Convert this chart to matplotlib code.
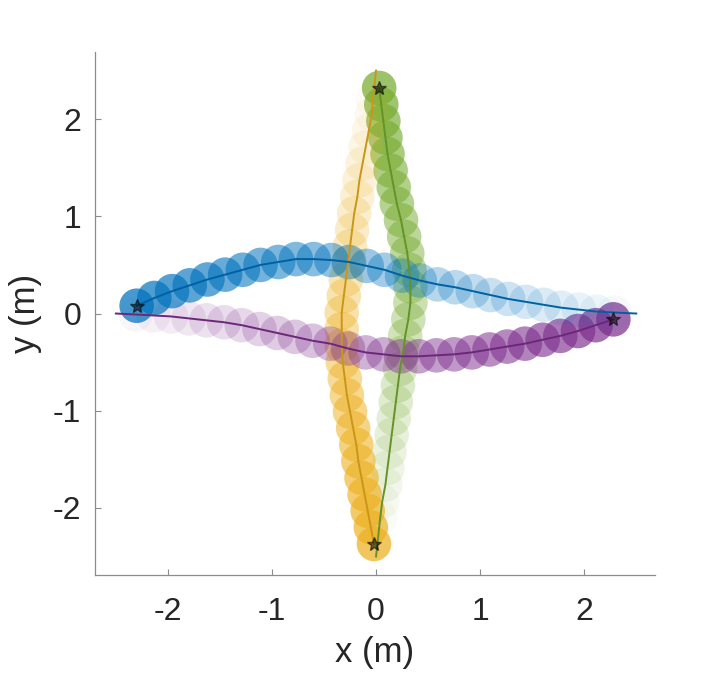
import numpy as np
import matplotlib.pyplot as plt
from matplotlib.colors import to_rgb

plt.rcParams['font.family'] = ['Liberation Sans', 'DejaVu Sans']
plt.rcParams['axes.unicode_minus'] = False

# trajectories (circle centres)
blue_x = [-2.30, -2.13, -1.96, -1.79, -1.62, -1.45, -1.28, -1.11, -0.94, -0.77,
          -0.60, -0.43, -0.26, -0.09, 0.08, 0.25, 0.42, 0.59, 0.76, 0.93,
          1.10, 1.27, 1.44, 1.61, 1.78, 1.95, 2.12, 2.29]
blue_y = [0.08, 0.16, 0.23, 0.29, 0.35, 0.40, 0.45, 0.50, 0.53, 0.56,
          0.56, 0.55, 0.53, 0.49, 0.45, 0.39, 0.34, 0.30, 0.27, 0.23,
          0.19, 0.15, 0.12, 0.09, 0.06, 0.04, 0.02, 0.01]

purple_x = [2.28, 2.11, 1.94, 1.77, 1.60, 1.43, 1.26, 1.09, 0.92, 0.75,
            0.58, 0.41, 0.24, 0.07, -0.10, -0.27, -0.44, -0.61, -0.78, -0.95,
            -1.12, -1.29, -1.46, -1.63, -1.80, -1.97, -2.14, -2.31]
purple_y = [-0.06, -0.12, -0.18, -0.23, -0.27, -0.31, -0.34, -0.37, -0.40, -0.42,
            -0.43, -0.44, -0.44, -0.42, -0.40, -0.36, -0.31, -0.28, -0.24, -0.20,
            -0.16, -0.12, -0.09, -0.07, -0.05, -0.03, -0.02, -0.01]

yellow_x = [-0.02, -0.05, -0.08, -0.11, -0.14, -0.17, -0.19, -0.22, -0.25, -0.28,
            -0.30, -0.32, -0.33, -0.33, -0.33, -0.31, -0.29, -0.27, -0.25, -0.23,
            -0.21, -0.18, -0.16, -0.13, -0.10, -0.07, -0.04, -0.03]
yellow_y = [-2.37, -2.20, -2.03, -1.86, -1.69, -1.52, -1.35, -1.18, -1.01, -0.84,
            -0.67, -0.50, -0.33, -0.16, 0.01, 0.18, 0.35, 0.52, 0.69, 0.86,
            1.03, 1.20, 1.37, 1.54, 1.71, 1.88, 2.05, 2.20]

green_x = [0.03, 0.05, 0.07, 0.09, 0.11, 0.14, 0.17, 0.20, 0.24, 0.27,
           0.30, 0.32, 0.33, 0.33, 0.31, 0.28, 0.26, 0.23, 0.21, 0.19,
           0.17, 0.15, 0.13, 0.11, 0.09, 0.06, 0.04]
green_y = [2.32, 2.15, 1.98, 1.81, 1.64, 1.47, 1.30, 1.13, 0.96, 0.79,
           0.62, 0.45, 0.28, 0.11, -0.06, -0.23, -0.40, -0.57, -0.74, -0.91,
           -1.08, -1.25, -1.42, -1.59, -1.76, -1.93, -2.10]

# goals (end of the thin lines)
goals = {'blue': (2.50, 0.0), 'purple': (-2.50, 0.0),
         'yellow': (0.0, 2.50), 'green': (0.0, -2.50)}

colors = {'blue': '#0072BD', 'purple': '#7E2F8E',
          'yellow': '#EDB120', 'green': '#77AC30'}

agents = [('green', green_x, green_y), ('yellow', yellow_x, yellow_y),
          ('purple', purple_x, purple_y), ('blue', blue_x, blue_y)]

fig = plt.figure(figsize=(7.26, 6.73), dpi=100)
ax = fig.add_axes([0.1309, 0.1456, 0.7713, 0.7771])

for name, xs, ys in agents:
    n = len(xs)
    rgb = np.array(to_rgb(colors[name]))
    alpha = np.linspace(0.72, 0.04, n)
    cols = np.column_stack([np.tile(rgb, (n, 1)), alpha])
    # oldest drawn last so the start end sits on top
    ax.scatter(xs[::-1], ys[::-1], s=620, c=cols[::-1], edgecolors='none', zorder=2)

for name, xs, ys in agents:
    gx, gy = goals[name]
    lc = np.array(to_rgb(colors[name])) * 0.85
    ax.plot(list(xs) + [gx], list(ys) + [gy], color=lc, lw=1.4, zorder=3)
    ax.plot(xs[0], ys[0], marker='*', ms=10, color='black', alpha=0.55,
            ls='none', zorder=4)

ax.set_xlim(-2.7, 2.68)
ax.set_ylim(-2.69, 2.69)
ax.set_xticks([-2, -1, 0, 1, 2])
ax.set_yticks([-2, -1, 0, 1, 2])

for s in ['top', 'right']:
    ax.spines[s].set_visible(False)
for s in ['left', 'bottom']:
    ax.spines[s].set_color('#8c8c8c')
    ax.spines[s].set_linewidth(0.9)
ax.tick_params(direction='in', length=4, width=0.8, color='#8c8c8c',
               labelsize=23, labelcolor='#262626')
ax.tick_params(axis='x', pad=16)
ax.tick_params(axis='y', pad=10)

ax.set_xlabel('x (m)', fontsize=25, color='#262626')
ax.set_ylabel('y (m)', fontsize=25, color='#262626')
ax.xaxis.set_label_coords(0.5, -0.117)
ax.yaxis.set_label_coords(-0.095, 0.5)

fig.savefig('out.png', dpi=100)
